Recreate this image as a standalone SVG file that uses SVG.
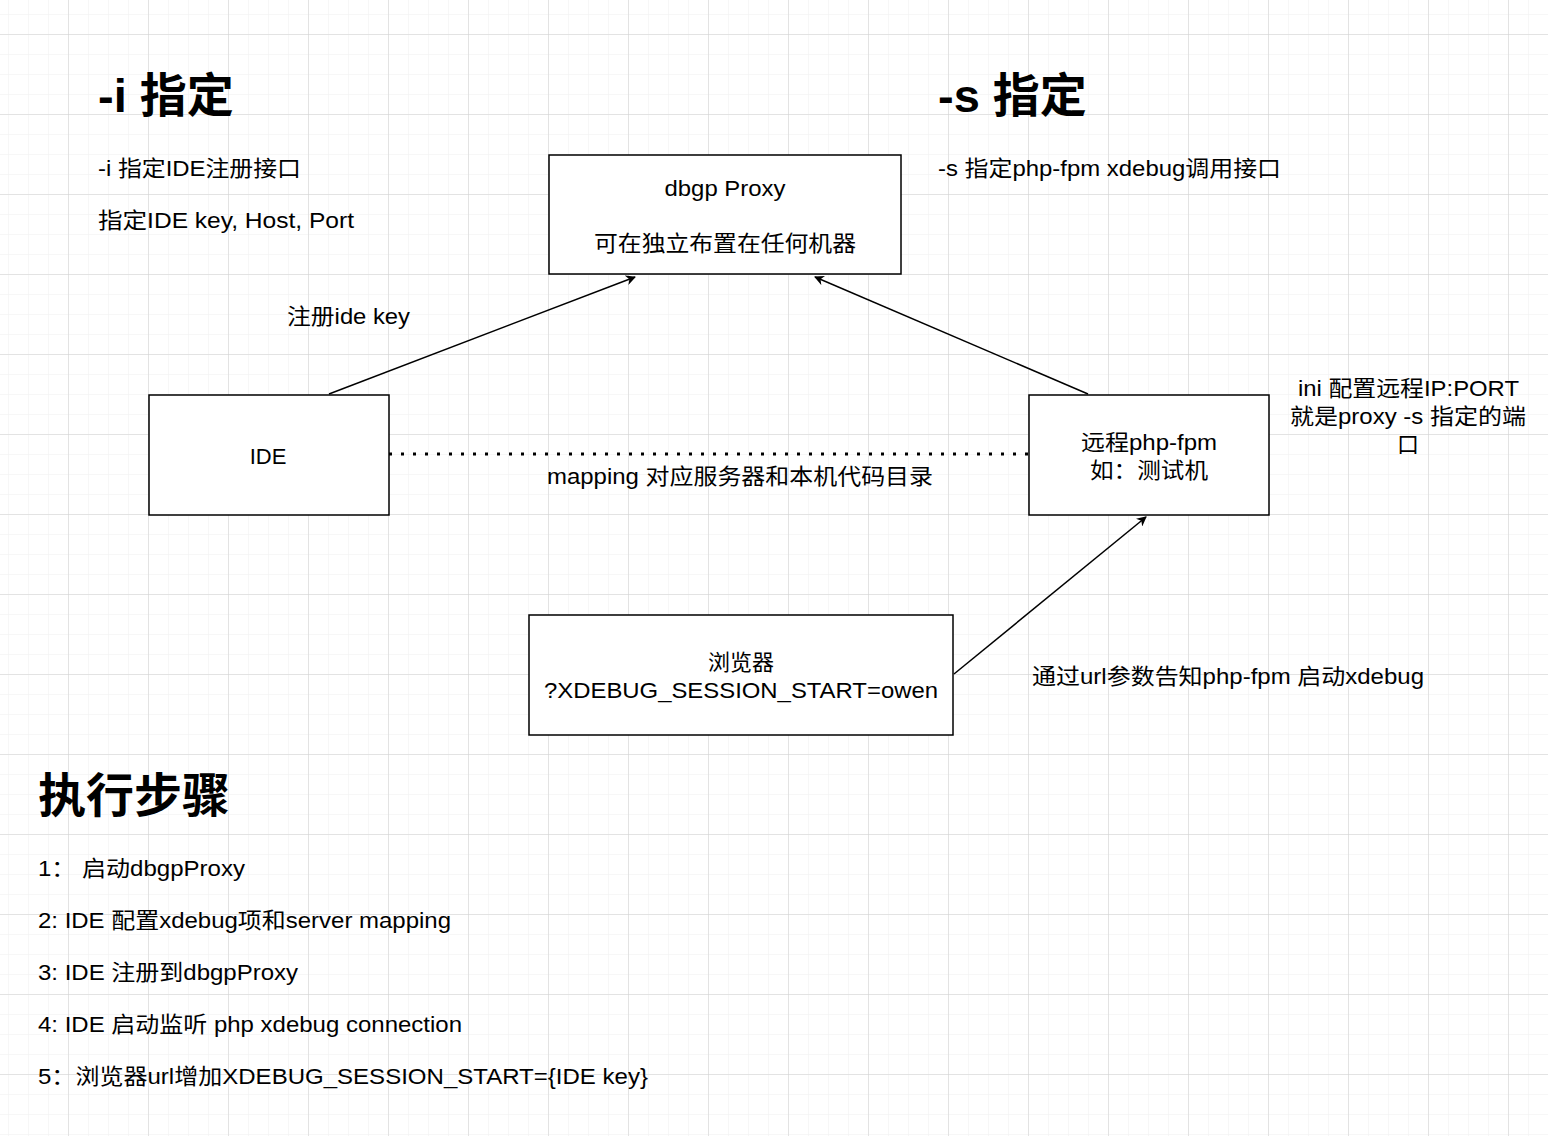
<svg xmlns="http://www.w3.org/2000/svg" width="1548" height="1136" viewBox="0 0 1548 1136">
<defs>
<pattern id="minor" x="8" y="14" width="20" height="20" patternUnits="userSpaceOnUse"><path d="M0 0V20M0 0H20" stroke="#efefef" stroke-width="1" fill="none"/></pattern>
<pattern id="major" x="68" y="34" width="80" height="80" patternUnits="userSpaceOnUse"><path d="M0 0V80M0 0H80" stroke="#d0d0d0" stroke-width="1" fill="none"/></pattern>
<marker id="arr" viewBox="0 0 10 10" refX="9" refY="5" markerWidth="10" markerHeight="10" markerUnits="userSpaceOnUse" orient="auto"><path d="M0 0L10 5L0 10L3 5Z" fill="#000"/></marker>
</defs>
<style>
text{font-family:"Liberation Sans","Noto Sans CJK SC",sans-serif;fill:#000;font-size:22px}
.h{font-size:47px;font-weight:bold}
.c{text-anchor:middle}
.box{fill:#fff;stroke:#000;stroke-width:1.5}
</style>
<rect width="1548" height="1136" fill="#fff"/>
<rect width="1548" height="1136" fill="url(#minor)"/>
<rect width="1548" height="1136" fill="url(#major)"/>
<g id="connectors" stroke="#000" stroke-width="1.5" fill="none">
<path d="M329 394L635 277" marker-end="url(#arr)"/>
<path d="M1088 394L815 277" marker-end="url(#arr)"/>
<path d="M954 674L1146 517" marker-end="url(#arr)"/>
<path d="M389 454H1028" stroke-width="3" stroke-dasharray="3 9"/>
</g>
<g id="proxy"><rect class="box" x="549" y="155" width="352" height="119"/><text class="c" x="725" y="196" textLength="121" lengthAdjust="spacingAndGlyphs">dbgp Proxy</text><text class="c" x="725" y="251" textLength="262" lengthAdjust="spacingAndGlyphs">可在独立布置在任何机器</text></g>
<g id="ide"><rect class="box" x="149" y="395" width="240" height="120"/><text class="c" x="268" y="464">IDE</text></g>
<g id="fpm"><rect class="box" x="1029" y="395" width="240" height="120"/><text class="c" x="1149" y="450" textLength="136" lengthAdjust="spacingAndGlyphs">远程php-fpm</text><text class="c" x="1149" y="478" textLength="118" lengthAdjust="spacingAndGlyphs">如：测试机</text></g>
<g id="browser"><rect class="box" x="529" y="615" width="424" height="120"/><text class="c" x="741" y="670">浏览器</text><text class="c" x="741" y="698" textLength="394" lengthAdjust="spacingAndGlyphs">?XDEBUG_SESSION_START=owen</text></g>
<g id="labels">
<text class="h" x="98" y="112">-i 指定</text>
<text class="h" x="938" y="112">-s 指定</text>
<text x="98" y="176" textLength="203" lengthAdjust="spacingAndGlyphs">-i 指定IDE注册接口</text>
<text x="98" y="228" textLength="256" lengthAdjust="spacingAndGlyphs">指定IDE key,  Host, Port</text>
<text x="938" y="176" textLength="343" lengthAdjust="spacingAndGlyphs">-s 指定php-fpm xdebug调用接口</text>
<text x="287" y="324" textLength="123" lengthAdjust="spacingAndGlyphs">注册ide key</text>
<text x="547" y="484" textLength="386" lengthAdjust="spacingAndGlyphs">mapping 对应服务器和本机代码目录</text>
<text x="1298" y="396" textLength="221" lengthAdjust="spacingAndGlyphs">ini 配置远程IP:PORT</text>
<text x="1290" y="424" textLength="236" lengthAdjust="spacingAndGlyphs">就是proxy -s 指定的端</text>
<text class="c" x="1408" y="452">口</text>
<text x="1032" y="684" textLength="392" lengthAdjust="spacingAndGlyphs">通过url参数告知php-fpm 启动xdebug</text>
<text class="h" x="38" y="812" textLength="192" lengthAdjust="spacingAndGlyphs">执行步骤</text>
<text x="38" y="876" textLength="207" lengthAdjust="spacingAndGlyphs">1：  启动dbgpProxy</text>
<text x="38" y="928" textLength="413" lengthAdjust="spacingAndGlyphs">2: IDE 配置xdebug项和server mapping</text>
<text x="38" y="980" textLength="260" lengthAdjust="spacingAndGlyphs">3: IDE 注册到dbgpProxy</text>
<text x="38" y="1032" textLength="424" lengthAdjust="spacingAndGlyphs">4: IDE 启动监听 php xdebug connection</text>
<text x="38" y="1084" textLength="610" lengthAdjust="spacingAndGlyphs">5：浏览器url增加XDEBUG_SESSION_START={IDE key}</text>
</g>
</svg>
